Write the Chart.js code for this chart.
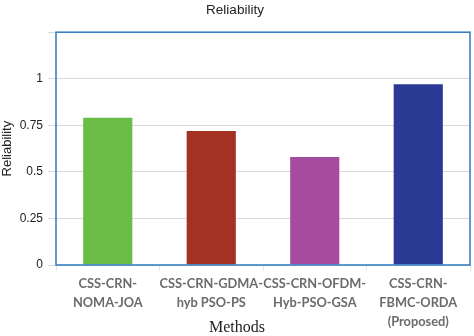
<!DOCTYPE html>
<html>
<head>
<meta charset="utf-8">
<script src="https://cdn.jsdelivr.net/npm/chart.js@4.4.1/dist/chart.umd.min.js"></script>
<style>
  html, body { margin: 0; padding: 0; background: #ffffff; }
  #wrap { width: 474px; height: 336px; position: relative; }
</style>
</head>
<body>
<div id="wrap"><canvas id="chart"></canvas></div>
<script>
// Methods compared and their reliability
const methods = [
  ['CSS-CRN-', 'NOMA-JOA'],
  ['CSS-CRN-GDMA-', 'hyb PSO-PS'],
  ['CSS-CRN-OFDM-', 'Hyb-PSO-GSA'],
  ['CSS-CRN-', 'FBMC-ORDA', '(Proposed)']
];
const reliability = [0.79, 0.72, 0.58, 0.97];
const barColors = ['#6cbd45', '#a33222', '#a64c9e', '#2a3a94'];
const yTicks = [0, 0.25, 0.5, 0.75, 1];

// Blue frame around the plot area and the "Methods" caption under the labels
const framePlugin = {
  id: 'frame',
  afterDatasetsDraw(chart) {
    const { ctx, chartArea: a } = chart;
    ctx.save();
    ctx.strokeStyle = '#3a80c6';
    ctx.lineWidth = 1.6;
    ctx.strokeRect(a.left, a.top, a.right - a.left, a.bottom - a.top);
    ctx.restore();
  },
  afterDraw(chart) {
    const { ctx, width } = chart;
    ctx.save();
    ctx.fillStyle = '#222222';
    ctx.font = '16px "Liberation Serif", "Times New Roman", serif';
    ctx.textAlign = 'center';
    ctx.textBaseline = 'middle';
    ctx.fillText('Methods', width / 2, 328);
    ctx.restore();
  }
};

new Chart(document.getElementById('chart'), {
  type: 'bar',
  data: {
    labels: methods,
    datasets: [{
      label: 'Reliability',
      data: reliability,
      backgroundColor: barColors,
      borderWidth: 0,
      categoryPercentage: 1,
      barPercentage: 0.475
    }]
  },
  options: {
    responsive: true,
    maintainAspectRatio: false,
    animation: false,
    layout: { padding: { left: 0, right: 4, top: 0, bottom: 0 } },
    plugins: {
      legend: { display: false },
      tooltip: { enabled: false },
      title: {
        display: true,
        text: 'Reliability',
        color: '#222222',
        font: { family: 'Arial, "Liberation Sans", sans-serif', size: 13.5, weight: 'normal' },
        padding: { top: 2, bottom: 14 }
      }
    },
    scales: {
      x: {
        afterFit(scale) { scale.height = 71; },
        border: { display: false },
        grid: {
          display: true,
          offset: true,
          drawOnChartArea: false,
          drawTicks: true,
          tickLength: 6,
          color: '#e6e6e6'
        },
        ticks: {
          padding: 4,
          maxRotation: 0,
          autoSkip: false,
          color: '#6b6b6b',
          font: { family: 'Lato, "Open Sans", sans-serif', size: 12.8, weight: 'bold', lineHeight: 1.45 }
        }
      },
      y: {
        min: 0,
        max: 1.25,
        afterFit(scale) { scale.width = 56; },
        afterBuildTicks(scale) {
          scale.ticks = yTicks.concat([1.25]).map(v => ({ value: v }));
        },
        border: { display: false },
        grid: {
          color: '#d9d9d9',
          lineWidth: 1,
          tickLength: 8
        },
        ticks: {
          padding: 5,
          color: '#222222',
          font: { family: 'Arial, "Liberation Sans", sans-serif', size: 12 },
          callback(v) { return yTicks.includes(v) ? String(v) : ''; }
        },
        title: {
          display: true,
          text: 'Reliability',
          color: '#222222',
          font: { family: 'Arial, "Liberation Sans", sans-serif', size: 13 },
          padding: { top: 0, bottom: 0 }
        }
      }
    }
  },
  plugins: [framePlugin]
});
</script>
</body>
</html>
